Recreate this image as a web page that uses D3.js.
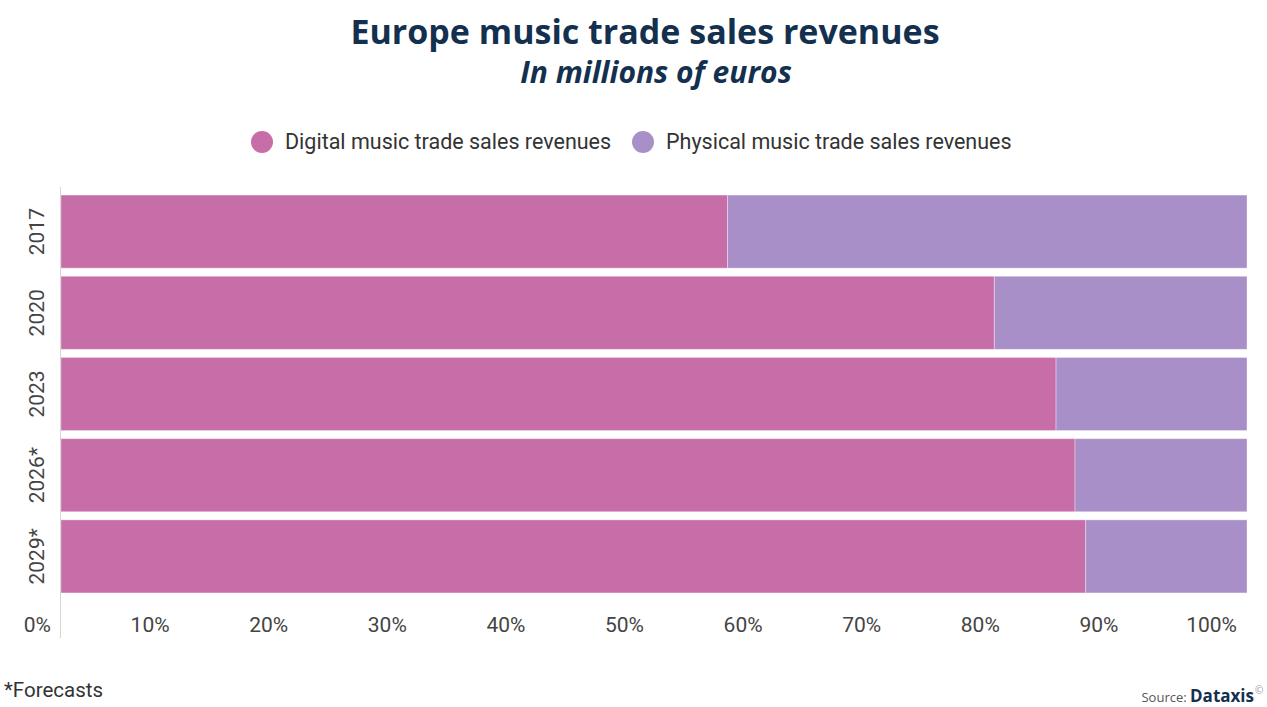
<!DOCTYPE html>
<html>
<head>
<meta charset="utf-8">
<script src="https://cdn.jsdelivr.net/npm/d3@7"></script>
<style>
  body { margin: 0; background: #fff; }
  svg { display: block; }
</style>
</head>
<body>
<svg id="viz"></svg>
<script>
let width = 1267;
let height = 707;

// data (share of total, %)
let years = ["2017", "2020", "2023", "2026*", "2029*"];
let digital = [56.2, 78.7, 83.9, 85.5, 86.4];
let physical = [43.8, 21.3, 16.1, 14.5, 13.6];
let seriesNames = ["Digital music trade sales revenues", "Physical music trade sales revenues"];
let seriesColors = ["#c76ea8", "#a98fc7"];
let xTicks = [0, 0.1, 0.2, 0.3, 0.4, 0.5, 0.6, 0.7, 0.8, 0.9, 1];

let left = 61, right = 1247;

let svg = d3.select("#viz")
    .attr("width", width)
    .attr("height", height);

// title
svg.append("text")
    .attr("x", 645)
    .attr("y", 44)
    .attr("text-anchor", "middle")
    .style("font-family", "'Open Sans'")
    .style("font-weight", "bold")
    .style("font-size", "34px")
    .style("fill", "#14304f")
    .text("Europe music trade sales revenues");

svg.append("text")
    .attr("x", 656)
    .attr("y", 83)
    .attr("text-anchor", "middle")
    .style("font-family", "'Open Sans'")
    .style("font-weight", "bold")
    .style("font-style", "italic")
    .style("font-size", "30px")
    .style("fill", "#14304f")
    .text("In millions of euros");

// legend
let legend = svg.append("g");
let legendX = [262, 643];
seriesNames.forEach((name, i) => {
    legend.append("circle")
        .attr("cx", legendX[i])
        .attr("cy", 142)
        .attr("r", 11)
        .attr("fill", seriesColors[i]);
    legend.append("text")
        .attr("x", legendX[i] + 23)
        .attr("y", 149)
        .style("font-family", "Roboto")
        .style("font-size", "21.5px")
        .style("fill", "#333")
        .text(name);
});

let rows = years.map((y, i) => ({ year: y, digital: digital[i], physical: physical[i] }));
let stacked = d3.stack()
    .keys(["digital", "physical"])
    .offset(d3.stackOffsetExpand)(rows);

let x = d3.scaleLinear().domain([0, 1]).range([left, right]);
let y = d3.scaleBand()
    .domain(years)
    .range([191, 597])
    .paddingInner(0.1)
    .paddingOuter(0.05);

svg.append("g")
    .selectAll("g")
    .data(stacked)
    .enter()
    .append("g")
    .attr("fill", (d, i) => seriesColors[i])
    .selectAll("rect")
    .data(d => d)
    .enter()
    .append("rect")
    .attr("x", d => x(d[0]))
    .attr("width", d => x(d[1]) - x(d[0]))
    .attr("y", d => y(d.data.year))
    .attr("height", y.bandwidth())
    .attr("stroke", "rgba(255,255,255,0.35)")
    .attr("stroke-width", 1);

// left axis line
svg.append("line")
    .attr("x1", left - 0.5).attr("x2", left - 0.5)
    .attr("y1", 187).attr("y2", 638)
    .attr("stroke", "#d6d6d6")
    .attr("stroke-width", 1);

// x tick labels (end-anchored just left of each tick)
svg.append("g")
    .selectAll("text")
    .data(xTicks)
    .enter()
    .append("text")
    .attr("x", d => x(d) - 10)
    .attr("y", 632)
    .attr("text-anchor", "end")
    .style("font-family", "Roboto")
    .style("font-size", "21px")
    .style("fill", "#444")
    .text(d3.format(".0%"));

// y labels, rotated
svg.append("g")
    .selectAll("text")
    .data(years)
    .enter()
    .append("text")
    .attr("transform", d => "translate(44," + (y(d) + y.bandwidth() / 2) + ") rotate(-90)")
    .attr("text-anchor", "middle")
    .style("font-family", "Roboto")
    .style("font-size", "21px")
    .style("fill", "#444")
    .text(d => d);

// footnote
svg.append("text")
    .attr("x", 4)
    .attr("y", 697)
    .style("font-family", "Roboto")
    .style("font-size", "20.5px")
    .style("fill", "#333")
    .text("*Forecasts");

// source
let src = svg.append("text")
    .attr("x", 1254)
    .attr("y", 702)
    .attr("text-anchor", "end")
    .style("font-family", "'Open Sans'")
    .style("fill", "#555");
src.append("tspan").style("font-size", "13px").text("Source: ");
src.append("tspan").style("font-size", "17px").style("font-weight", "bold").style("fill", "#14304f").text("Dataxis");

svg.append("text")
    .attr("x", 1255)
    .attr("y", 694)
    .style("font-family", "'Open Sans'")
    .style("font-size", "10px")
    .style("fill", "#999")
    .text("©");
</script>
</body>
</html>
